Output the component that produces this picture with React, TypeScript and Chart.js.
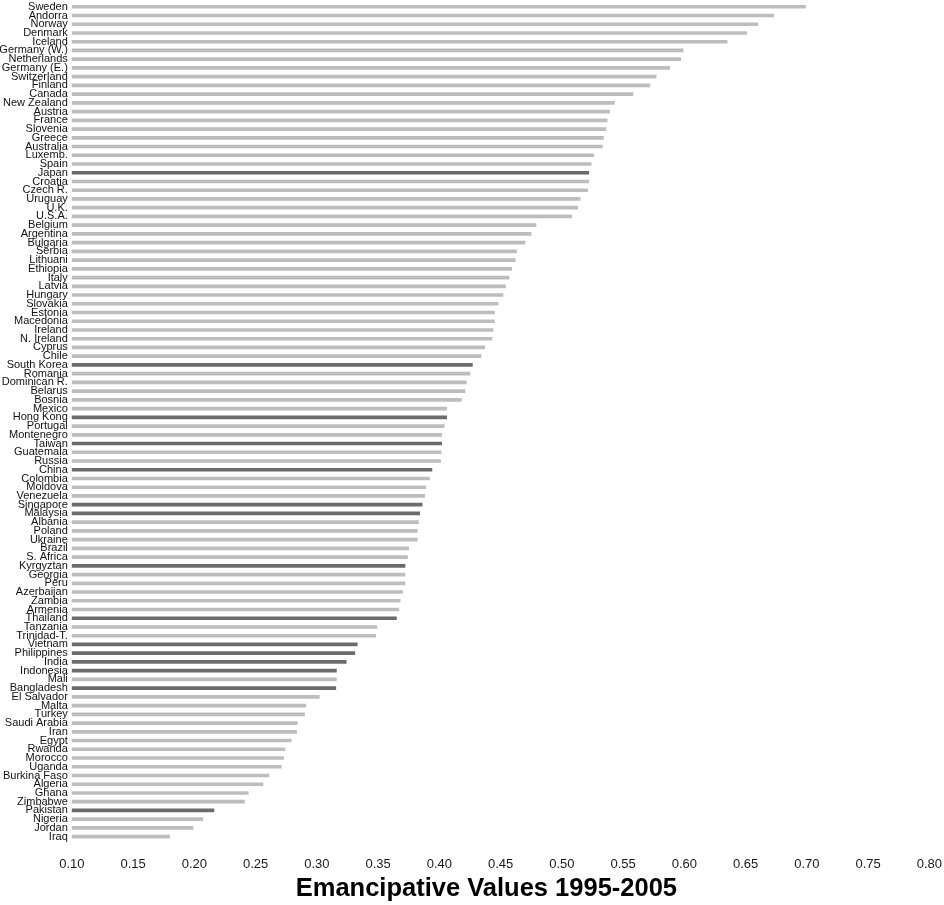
import React, { useEffect, useRef } from "react";
import { Chart, registerables } from "chart.js";

Chart.register(...registerables);

const countries: string[] = [
  "Sweden", "Andorra", "Norway", "Denmark", "Iceland", "Germany (W.)", "Netherlands", "Germany (E.)",
  "Switzerland", "Finland", "Canada", "New Zealand", "Austria", "France", "Slovenia", "Greece",
  "Australia", "Luxemb.", "Spain", "Japan", "Croatia", "Czech R.", "Uruguay", "U.K.", "U.S.A.",
  "Belgium", "Argentina", "Bulgaria", "Serbia", "Lithuani", "Ethiopia", "Italy", "Latvia", "Hungary",
  "Slovakia", "Estonia", "Macedonia", "Ireland", "N. Ireland", "Cyprus", "Chile", "South Korea",
  "Romania", "Dominican R.", "Belarus", "Bosnia", "Mexico", "Hong Kong", "Portugal", "Montenegro",
  "Taiwan", "Guatemala", "Russia", "China", "Colombia", "Moldova", "Venezuela", "Singapore",
  "Malaysia", "Albania", "Poland", "Ukraine", "Brazil", "S. Africa", "Kyrgyztan", "Georgia", "Peru",
  "Azerbaijan", "Zambia", "Armenia", "Thailand", "Tanzania", "Trinidad-T.", "Vietnam", "Philippines",
  "India", "Indonesia", "Mali", "Bangladesh", "El Salvador", "Malta", "Turkey", "Saudi Arabia", "Iran",
  "Egypt", "Rwanda", "Morocco", "Uganda", "Burkina Faso", "Algeria", "Ghana", "Zimbabwe", "Pakistan",
  "Nigeria", "Jordan", "Iraq",
];

const values: number[] = [
  0.699, 0.673, 0.660, 0.651, 0.635, 0.599, 0.597, 0.588,
  0.577, 0.572, 0.558, 0.543, 0.539, 0.537, 0.536, 0.534,
  0.533, 0.526, 0.524, 0.522, 0.522, 0.521, 0.515, 0.513, 0.508,
  0.479, 0.475, 0.470, 0.463, 0.462, 0.459, 0.457, 0.454, 0.452,
  0.448, 0.445, 0.445, 0.444, 0.443, 0.437, 0.434, 0.427,
  0.425, 0.422, 0.421, 0.418, 0.406, 0.406, 0.404, 0.402,
  0.402, 0.4015, 0.401, 0.394, 0.392, 0.389, 0.388, 0.386,
  0.384, 0.383, 0.382, 0.382, 0.375, 0.374, 0.372, 0.372, 0.372,
  0.370, 0.368, 0.367, 0.365, 0.349, 0.348, 0.333, 0.331,
  0.324, 0.316, 0.316, 0.3155, 0.302, 0.291, 0.290, 0.284, 0.2835,
  0.279, 0.274, 0.273, 0.271, 0.261, 0.256, 0.244, 0.241, 0.216,
  0.207, 0.199, 0.180,
];

const highlighted: string[] = [
  "Japan", "South Korea", "Hong Kong", "Taiwan", "China", "Singapore", "Malaysia", "Kyrgyztan",
  "Thailand", "Vietnam", "Philippines", "India", "Indonesia", "Bangladesh", "Pakistan",
];

const xTicks: number[] = [0.1, 0.15, 0.2, 0.25, 0.3, 0.35, 0.4, 0.45, 0.5, 0.55, 0.6, 0.65, 0.7, 0.75, 0.8];

const axisTitle = "Emancipative Values 1995-2005";

const LIGHT = "#bdbdbd";
const DARK = "#6b6b6b";
const FONT = "'Liberation Sans', Arial, Helvetica, sans-serif";

export default function App() {
  const ref = useRef<HTMLCanvasElement | null>(null);

  useEffect(() => {
    if (!ref.current) return;
    const chart = new Chart(ref.current, {
      type: "bar",
      data: {
        labels: countries,
        datasets: [
          {
            data: values,
            backgroundColor: countries.map((c) => (highlighted.includes(c) ? DARK : LIGHT)),
            borderWidth: 0,
            barThickness: 3,
          },
        ],
      },
      options: {
        indexAxis: "y",
        animation: false,
        responsive: false,
        layout: { padding: { top: 2.4, right: 14.7, bottom: 0, left: 0 } },
        plugins: {
          legend: { display: false },
          tooltip: { enabled: false },
          title: { display: false },
        },
        scales: {
          y: {
            type: "category",
            offset: true,
            grid: { display: false, drawTicks: false },
            border: { display: false },
            ticks: {
              autoSkip: false,
              padding: 4,
              color: "#111",
              font: { family: FONT, size: 11 },
            },
            afterFit: (scale: any) => {
              scale.width = 71.8;
              scale.paddingTop = 0;
              scale.paddingBottom = 0;
            },
          },
          x: {
            type: "linear",
            min: 0.1,
            max: 0.8,
            grid: { display: false, drawTicks: false },
            border: { display: false },
            afterBuildTicks: (scale: any) => {
              scale.ticks = xTicks.map((v) => ({ value: v }));
            },
            ticks: {
              padding: 16,
              color: "#1a1a1a",
              font: { family: FONT, size: 13 },
              callback: (v: any) => Number(v).toFixed(2),
            },
            title: {
              display: true,
              text: axisTitle + "    ",
              color: "#000",
              font: { family: FONT, size: 25.5, weight: "bold" },
              padding: { top: 0, bottom: 1 },
            },
            afterFit: (scale: any) => {
              scale.height = 64;
              scale.paddingLeft = 0;
              scale.paddingRight = 0;
            },
          },
        },
      },
    });
    return () => chart.destroy();
  }, []);

  return (
    <div style={{ position: "absolute", left: 0, top: 0, width: 944, height: 905, background: "#fff" }}>
      <canvas ref={ref} width={944} height={905} style={{ display: "block", width: 944, height: 905 }} />
    </div>
  );
}
